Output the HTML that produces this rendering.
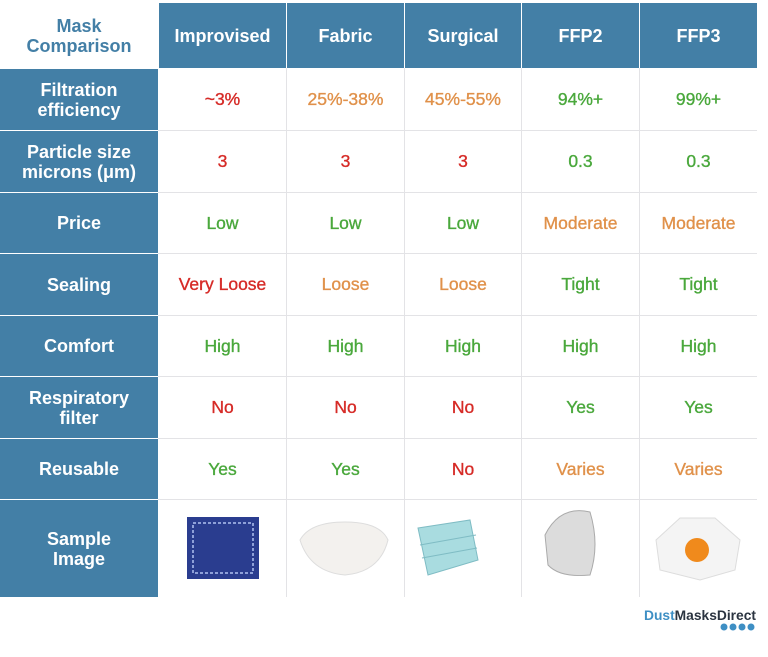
<!DOCTYPE html>
<html><head><style>
body{margin:0;width:768px;height:657px;background:#fff;position:relative;overflow:hidden;font-family:"Liberation Sans",sans-serif;font-weight:bold}
.c{position:absolute;display:flex;align-items:center;justify-content:center;text-align:center;box-sizing:border-box}
.b{background:#437fa6;color:#fff;font-size:18px;line-height:20px}
.v{font-size:17.5px;font-weight:normal;-webkit-text-stroke:0.35px currentColor}
.r{color:#d62b27}.o{color:#e0914a}.g{color:#4aa83c}
.hl{position:absolute;background:#e3e3e6;height:1px;left:158px;width:599px}
.vl{position:absolute;background:#e3e3e6;width:1px;top:68px;height:529px}
</style></head><body>
<div class="c" style="left:0;top:3px;width:158px;height:65px;color:#437fa6;font-size:18px;line-height:20px">Mask<br>Comparison</div>
<div class="c b" style="left:159px;top:3px;width:127px;height:65px">Improvised</div>
<div class="c b" style="left:287px;top:3px;width:117px;height:65px">Fabric</div>
<div class="c b" style="left:405px;top:3px;width:116px;height:65px">Surgical</div>
<div class="c b" style="left:522px;top:3px;width:117px;height:65px">FFP2</div>
<div class="c b" style="left:640px;top:3px;width:117px;height:65px">FFP3</div>

<div class="c b" style="left:0;top:69px;width:158px;height:61px">Filtration<br>efficiency</div>
<div class="c b" style="left:0;top:131px;width:158px;height:61px">Particle size<br>microns (μm)</div>
<div class="c b" style="left:0;top:193px;width:158px;height:60px">Price</div>
<div class="c b" style="left:0;top:254px;width:158px;height:61px">Sealing</div>
<div class="c b" style="left:0;top:316px;width:158px;height:60px">Comfort</div>
<div class="c b" style="left:0;top:377px;width:158px;height:61px">Respiratory<br>filter</div>
<div class="c b" style="left:0;top:439px;width:158px;height:60px">Reusable</div>
<div class="c b" style="left:0;top:500px;width:158px;height:97px">Sample<br>Image</div>

<div class="hl" style="top:130px"></div><div class="hl" style="top:192px"></div><div class="hl" style="top:253px"></div><div class="hl" style="top:315px"></div><div class="hl" style="top:376px"></div><div class="hl" style="top:438px"></div><div class="hl" style="top:499px"></div>
<div class="vl" style="left:286px"></div><div class="vl" style="left:404px"></div><div class="vl" style="left:521px"></div><div class="vl" style="left:639px"></div>

<div id="g"></div>
<script>
const cols=[[159,127],[287,117],[405,116],[522,117],[640,117]];
const rows=[[69,61],[131,61],[193,60],[254,61],[316,60],[377,61],[439,60]];
const d=[
[["~3%","r"],["25%-38%","o"],["45%-55%","o"],["94%+","g"],["99%+","g"]],
[["3","r"],["3","r"],["3","r"],["0.3","g"],["0.3","g"]],
[["Low","g"],["Low","g"],["Low","g"],["Moderate","o"],["Moderate","o"]],
[["Very Loose","r"],["Loose","o"],["Loose","o"],["Tight","g"],["Tight","g"]],
[["High","g"],["High","g"],["High","g"],["High","g"],["High","g"]],
[["No","r"],["No","r"],["No","r"],["Yes","g"],["Yes","g"]],
[["Yes","g"],["Yes","g"],["No","r"],["Varies","o"],["Varies","o"]]];
let h="";
d.forEach((r,i)=>r.forEach((c,j)=>{h+=`<div class="c v ${c[1]}" style="left:${cols[j][0]}px;top:${rows[i][0]}px;width:${cols[j][1]}px;height:${rows[i][1]}px">${c[0]}</div>`}));
document.getElementById("g").innerHTML=h;
</script>

<svg style="position:absolute;left:0;top:0" width="768" height="657">
<rect x="187" y="517" width="72" height="62" fill="#2a3d8f"/>
<rect x="193" y="523" width="60" height="50" fill="none" stroke="#8ea0d8" stroke-width="2" stroke-dasharray="3 2"/>
<path d="M300 540 Q310 522 345 522 Q380 522 388 540 Q380 572 345 575 Q310 572 300 540Z" fill="#f3f1ee" stroke="#ddd"/>
<path d="M418 528 L470 520 L478 560 L428 575 Z" fill="#a9dce0" stroke="#7fbcc4"/>
<path d="M420 545 L476 535 M422 558 L477 548" stroke="#7fbcc4"/>
<path d="M545 535 Q560 505 590 512 Q600 545 590 575 Q560 578 548 565 Z" fill="#dcdcdc" stroke="#aaa"/>
<path d="M656 540 L680 518 L715 518 L740 540 L735 570 L700 580 L660 570 Z" fill="#f4f4f4" stroke="#ddd"/>
<circle cx="697" cy="550" r="12" fill="#f08a1c"/>
<text x="644" y="620" textLength="112" lengthAdjust="spacingAndGlyphs" font-family="Liberation Sans" font-weight="bold" font-size="14" fill="#3e8fc4">Dust<tspan fill="#2b3440">MasksDirect</tspan></text>
<g fill="#3e8fc4"><circle cx="724" cy="627" r="3.5"/><circle cx="733" cy="627" r="3.5"/><circle cx="742" cy="627" r="3.5"/><circle cx="751" cy="627" r="3.5"/></g>
</svg>
</body></html>
